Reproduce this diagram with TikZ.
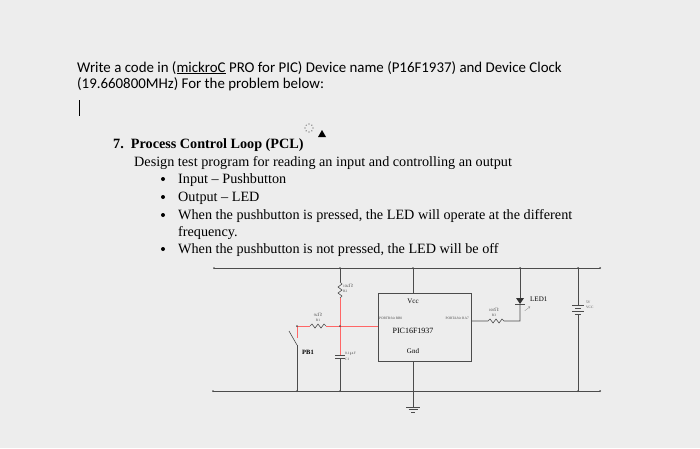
\documentclass[tikz,border=0pt]{standalone}
\usepackage{fontspec}
\setmainfont{Liberation Serif}
\newfontfamily\hdr{Carlito}
\begin{document}
\begin{tikzpicture}[x=1pt,y=-1pt,
  wire/.style={draw=black!70,line width=0.6pt},
  redw/.style={draw=red!60,line width=0.6pt},
  body/.style={anchor=base west,inner sep=0,font=\fontsize{14.2}{16}\selectfont},
  tiny/.style={inner sep=0,font=\fontsize{3.5}{4}\selectfont,text=black!70},
  dot/.style={circle,fill=black!70,inner sep=0,minimum size=2pt}]
\fill[black!7] (0,0) rectangle (700,448);
\useasboundingbox (0,0) rectangle (700,448);
\node[body,font=\hdr\fontsize{14.9}{16}\selectfont] (h1) at (77,72) {Write a code in (\underline{mickroC} PRO for PIC) Device name (P16F1937) and Device Clock};
\node[body,font=\hdr\fontsize{14.9}{16}\selectfont] (h2) at (77,88) {(19.660800MHz) For the problem below:};
\draw[line width=0.8pt] (79,100) -- (79,116);
\node[body,font=\bfseries\fontsize{14.2}{16}\selectfont] (t7) at (113,148) {7.\ \ Process Control Loop (PCL)};
\node[body] (d) at (134,166) {Design test program for reading an input and controlling an output};
\foreach \yy/\tx [count=\i] in {183/{Input -- Pushbutton},201/{Output -- LED},219/{When the pushbutton is pressed, the LED will operate at the different},253/{When the pushbutton is not pressed, the LED will be off}}{
  \node[body] (b\i) at (178,\yy) {\tx};
  \fill (163,\yy-4) circle (2pt);
}
\node[body] (fq) at (178,236) {frequency.};
% circuit
\coordinate (TL) at (214,268); \coordinate (TR) at (600,268);
\coordinate (BL) at (213,391); \coordinate (BR) at (600,391);
\draw[wire] (TL) -- (TR);
\draw[wire] (BL) -- (BR);
\node[draw=black!70,line width=0.6pt,minimum width=93pt,minimum height=68pt,inner sep=0] (chip) at (424.5,327) {};
\node[inner sep=0,font=\fontsize{7}{8}\selectfont] (vcc) at (413,301) {Vcc};
\node[inner sep=0,font=\fontsize{8}{9}\selectfont] (pic) at (413,331) {PIC16F1937};
\node[inner sep=0,font=\fontsize{7}{8}\selectfont] (gnd) at (413,351) {Gnd};
\node[tiny,anchor=west] (p1) at (379,318) {PORTB/bit RB0};
\node[tiny,anchor=east] (p2) at (469,318) {PORTA/bit RA7};
\draw[wire] (413,268) -- (chip.north -| 413,0);
\draw[wire] (chip.south -| 413,0) -- (413,407);
\draw[wire] (406,407) -- (420,407) (408.5,409.5) -- (417.5,409.5) (411,412) -- (415,412);
% R2 and C1 column
\draw[wire] (340,268) -- (340,282);
\draw[wire] (340,282) -- (342,284) -- (338,287) -- (342,290) -- (338,293) -- (342,296) -- (340,298);
\draw[redw] (340,298) -- (340,355);
\draw[wire] (335,355) -- (345,355) (335,358) -- (345,358);
\draw[wire] (340,358) -- (340,391);
\node[tiny,anchor=west] at (343,286) {10k$\Omega$};
\node[tiny,anchor=west] at (343,291) {R2};
\node[tiny,anchor=west] at (345,354) {0.1$\mu$F};
\node[tiny,anchor=west] at (345,359) {C1};
% R1
\draw[redw] (297,326) -- (310,326);
\draw[wire] (310,326) -- (312,324) -- (315,328) -- (318,324) -- (321,328) -- (324,324) -- (326,326);
\draw[redw] (326,326) -- (378,326);
\node[tiny] at (318,315) {9k$\Omega$};
\node[tiny] at (318,320) {R1};
% PB1
\draw[redw] (297,326) -- (297,338);
\draw[wire] (297,345) -- (289,331);
\draw[wire] (297,345) -- (297,391);
\node[inner sep=0,font=\bfseries\fontsize{6.5}{7}\selectfont] (pb) at (308,352) {PB1};
% R3 and LED
\draw[wire] (471,321) -- (488,321) -- (490,319) -- (493,323) -- (496,319) -- (499,323) -- (502,319) -- (504,321) -- (520,321) -- (520,305);
\node[tiny] at (494,310) {100$\Omega$};
\node[tiny] at (494,315) {R3};
\draw[wire] (520,268) -- (520,298);
\fill[black!80] (516,298) -- (524,298) -- (520,304) -- cycle;
\draw[wire] (515,304) -- (525,304);
\node[inner sep=0,anchor=west,font=\fontsize{7}{8}\selectfont] (led) at (530,299) {LED1};
\node[tiny,anchor=west] at (524,309) {$\nearrow$};
% battery
\draw[wire] (578,268) -- (578,305) (578,314) -- (578,391);
\draw[wire] (572,305) -- (584,305) (575,308) -- (581,308) (572,311) -- (584,311) (575,314) -- (581,314);
\node[tiny,anchor=west] at (586,302) {5V};
\node[tiny,anchor=west] at (586,307) {VCC};
\foreach \p in {(340,268),(413,268),(520,268),(578,268),(297,391),(340,391),(578,391),(340,326),(297,326),(214,268),(600,268),(213,391),(600,391)} \fill[black!70] \p circle (1pt);
% cursor sparkle
\fill (322,130) -- (326,137) -- (318,137) -- cycle;
\foreach \a in {0,45,...,315} \fill[black!70] (309,128)+(\a:4) circle (0.6pt);
\end{tikzpicture}
\end{document}
